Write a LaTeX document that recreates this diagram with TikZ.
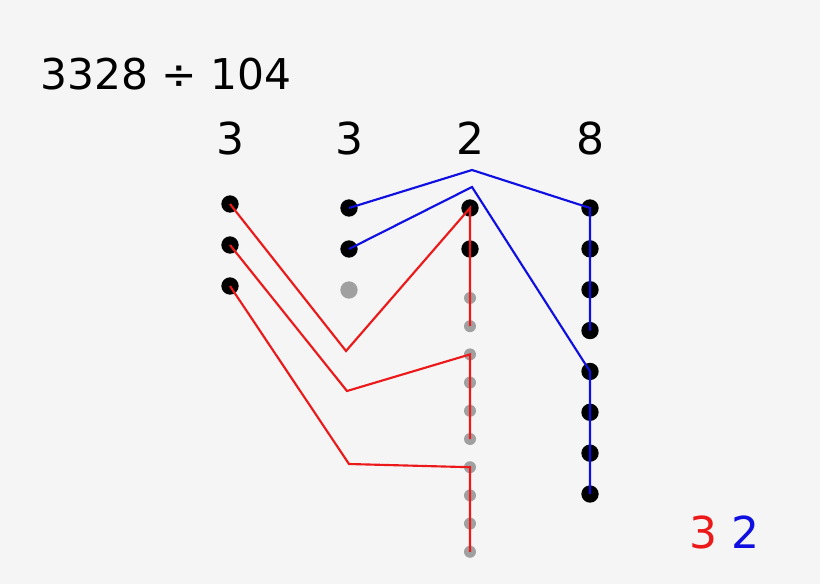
\documentclass[tikz,border=0pt]{standalone}
\usepackage{fontspec}
\setmainfont{DejaVu Sans}
\definecolor{bgcol}{RGB}{245,245,245}
\definecolor{dotgray}{RGB}{160,160,160}
\definecolor{redline}{RGB}{235,25,25}
\definecolor{blueline}{RGB}{15,15,225}

\begin{document}
\begin{tikzpicture}[x=0.75pt,y=-0.75pt,
	digit/.style={inner sep=0pt,font=\fontsize{33}{40}\selectfont},
	blackdot/.style={circle,fill=black,inner sep=0pt,minimum size=13pt},
	graydot/.style={circle,fill=dotgray,inner sep=0pt,minimum size=13pt},
	smalldot/.style={circle,fill=dotgray,inner sep=0pt,minimum size=9pt},
	redpath/.style={draw=redline,line width=1.6pt},
	bluepath/.style={draw=blueline,line width=1.6pt}]
		%%%%% START %%%%%
		\fill[bgcol] (0,0) rectangle (820,584);
		
		\node[digit,anchor=base west,font=\fontsize{31.8}{40}\selectfont] (title) at (40,90) {3328 ÷ 104};
		
		\node[digit] (q1) at (230,138) {3};
		\node[digit] (q2) at (349,138) {3};
		\node[digit] (q3) at (470,138) {2};
		\node[digit] (q4) at (590,138) {8};
		
		% dots of the columns
		\foreach \i/\y in {1/204, 2/245, 3/286}
			\node[blackdot] (a\i) at (230,\y) {};
		\node[blackdot] (b1) at (349,208) {};
		\node[blackdot] (b2) at (349,249) {};
		\node[graydot] (b3) at (349,290) {};
		\node[blackdot] (c1) at (470,208) {};
		\node[blackdot] (c2) at (470,249) {};
		\foreach \i in {1,...,10}
			\node[smalldot] (g\i) at (470,{298+28.2*(\i-1)}) {};
		\foreach \i in {1,...,8}
			\node[blackdot] (d\i) at (590,{208+40.86*(\i-1)}) {};
		
		% corners
		\coordinate (r1) at (346,351);
		\coordinate (r2) at (347,391);
		\coordinate (r3) at (349,464);
		\coordinate (p1) at (472,170);
		\coordinate (p2) at (472,187);
		
		\draw[redpath] (a1.center) -- (r1) -- (c1.center) -- (g2.center);
		\draw[redpath] (a2.center) -- (r2) -- (g3.center) -- (g6.center);
		\draw[redpath] (a3.center) -- (r3) -- (g7.center) -- (g10.center);
		
		\draw[bluepath] (b1.center) -- (p1) -- (d1.center) -- (d4.center);
		\draw[bluepath] (b2.center) -- (p2) -- (d5.center) -- (d8.center);
		
		\node[digit,text=redline] (ans1) at (703,532) {3};
		\node[digit,text=blueline] (ans2) at (745,532) {2};
		%%%%% END %%%%%
\end{tikzpicture}
\end{document}
